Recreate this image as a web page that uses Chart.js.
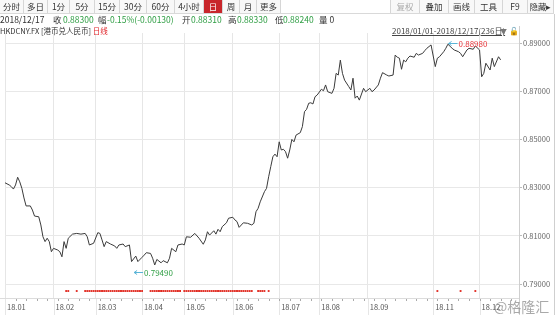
<!DOCTYPE html>
<html><head><meta charset="utf-8">
<script src="https://cdn.jsdelivr.net/npm/chart.js@4"></script>
<style>
html,body{margin:0;padding:0;background:#fff;width:556px;height:315px;overflow:hidden;font-family:"Noto Sans CJK SC","Noto Sans",sans-serif;}
#cv{position:absolute;left:0;top:0;}
.ov{position:absolute;white-space:nowrap;}
#row1{position:absolute;left:0;top:0;width:554px;height:13px;background:#f6f6f6;border-bottom:1px solid #d9d9d9;}
.btn{position:absolute;top:0;height:13px;line-height:13px;font-size:8.5px;text-align:center;color:#333;border-right:1px solid #d6d6d6;box-sizing:border-box;background:#f8f8f8;}
.sel{background:#c8262b;color:#fff;}
.r2{position:absolute;top:14px;height:11px;line-height:11px;font-size:8.5px;color:#333;white-space:nowrap;}
.g{color:#2f9e44;}
.r3{position:absolute;top:25px;height:12px;line-height:12px;font-size:7.5px;color:#333;white-space:nowrap;}
</style></head>
<body>
<canvas id="cv" width="556" height="315"></canvas>
<div id="row1">
<div class="btn" style="left:0;width:24px">分时</div>
<div class="btn" style="left:24px;width:24px">多日</div>
<div class="btn" style="left:48px;width:22px">1分</div>
<div class="btn" style="left:70px;width:25px">5分</div>
<div class="btn" style="left:95px;width:25px">15分</div>
<div class="btn" style="left:120px;width:27px">30分</div>
<div class="btn" style="left:147px;width:28px">60分</div>
<div class="btn" style="left:175px;width:29px">4小时</div>
<div class="btn sel" style="left:204px;width:19px">日</div>
<div class="btn" style="left:223px;width:17px">周</div>
<div class="btn" style="left:240px;width:17px">月</div>
<div class="btn" style="left:257px;width:24px">更多</div>
<div class="btn" style="left:281px;width:110px;background:#fff"></div>
<div class="btn" style="left:391px;width:29px;color:#aaa">复权</div>
<div class="btn" style="left:420px;width:29px">叠加</div>
<div class="btn" style="left:449px;width:26px">画线</div>
<div class="btn" style="left:475px;width:28px">工具</div>
<div class="btn" style="left:503px;width:25px">F9</div>
<div class="btn" style="left:528px;width:26px">隐藏▸</div>
</div>
<div class="r2" style="left:0">2018/12/17</div>
<div class="r2" style="left:53px">收</div>
<div class="r2 g" style="left:63px">0.88300</div>
<div class="r2" style="left:98px">幅</div>
<div class="r2 g" style="left:107px">-0.15%(-0.00130)</div>
<div class="r2" style="left:182px">开</div>
<div class="r2 g" style="left:191px">0.88310</div>
<div class="r2" style="left:228px">高</div>
<div class="r2 g" style="left:237px">0.88330</div>
<div class="r2" style="left:275px">低</div>
<div class="r2 g" style="left:283px">0.88240</div>
<div class="r2" style="left:319px">量 0</div>
<div class="r3" style="left:0">HKDCNY.FX [港币兑人民币] <span style="color:#e0262b">日线</span></div>
<div class="r3" style="left:392px;text-decoration:underline;color:#444;font-size:8px">2018/01/01-2018/12/17(236日)</div>
<div class="r3" style="left:500px;color:#777;font-size:7px">▼</div>
<div class="r3" style="left:509px;color:#f0a020;font-size:8px">🔓</div>
<div class="ov" style="left:494px;top:296px;font-size:14px;color:rgba(140,140,140,0.75)">@格隆汇</div>
<script>
// ---- data ----
const monthStartDays = [0, 23, 43, 65, 85, 108, 130, 149, 172, 203, 225];
const monthLabels = ['18.01','18.02','18.03','18.04','18.05','18.06','18.07','18.08','18.09','18.11','18.12'];
const yTicks = [0.79, 0.81, 0.83, 0.85, 0.87, 0.89];
const closeDays = [0,2,3,4,5,6,7,8,9,10,12,13,14,16,17,18,19,20,21,22,23,25,26,27,28,29,30,32,34,36,38,39,40,42,44,45,46,47,48,50,52,53,54,56,57,59,60,62,63,65,66,67,69,70,71,72,74,75,77,78,79,81,82,84,85,86,88,90,92,94,95,96,97,99,100,101,102,103,105,106,108,109,110,111,113,115,117,118,119,120,121,123,124,125,126,127,128,129,130,131,132,133,134,135,136,137,138,140,141,142,143,144,145,146,147,148,150,151,152,153,155,156,157,158,159,160,161,163,164,165,166,167,168,170,171,173,174,175,177,178,179,181,182,184,185,186,187,188,189,190,191,192,194,195,196,198,199,200,202,204,205,206,208,209,210,212,213,215,216,217,219,220,222,223,225,226,227,228,230,231,232,234,235];
const closeValues = [0.8320,0.8311,0.8304,0.8294,0.8311,0.8343,0.8324,0.8297,0.8257,0.8224,0.8224,0.8207,0.8182,0.8179,0.8145,0.8096,0.8076,0.8090,0.8076,0.8034,0.8048,0.8041,0.8034,0.8013,0.8076,0.8048,0.8090,0.8107,0.8110,0.8107,0.8110,0.8096,0.8062,0.8069,0.8113,0.8110,0.8083,0.8055,0.8076,0.8066,0.8058,0.8048,0.8062,0.8066,0.8055,0.8062,0.7993,0.8016,0.7993,0.8011,0.8020,0.8030,0.8027,0.8007,0.7979,0.8002,0.7988,0.7997,0.7988,0.8007,0.8048,0.8034,0.8062,0.8066,0.8062,0.8096,0.8094,0.8110,0.8090,0.8065,0.8083,0.8117,0.8103,0.8121,0.8107,0.8127,0.8117,0.8138,0.8154,0.8173,0.8177,0.8166,0.8159,0.8135,0.8154,0.8152,0.8145,0.8152,0.8200,0.8214,0.8241,0.8283,0.8297,0.8345,0.8387,0.8428,0.8439,0.8428,0.8490,0.8456,0.8459,0.8449,0.8422,0.8456,0.8500,0.8490,0.8518,0.8528,0.8553,0.8615,0.8625,0.8650,0.8652,0.8647,0.8677,0.8684,0.8708,0.8702,0.8726,0.8698,0.8691,0.8712,0.8774,0.8767,0.8829,0.8774,0.8746,0.8719,0.8705,0.8754,0.8671,0.8680,0.8663,0.8712,0.8698,0.8712,0.8698,0.8705,0.8726,0.8754,0.8777,0.8767,0.8763,0.8767,0.8850,0.8841,0.8837,0.8791,0.8829,0.8822,0.8837,0.8846,0.8841,0.8857,0.8850,0.8857,0.8868,0.8878,0.8892,0.8802,0.8837,0.8843,0.8864,0.8878,0.8895,0.8878,0.8871,0.8864,0.8857,0.8843,0.8871,0.8878,0.8874,0.8888,0.8871,0.8760,0.8774,0.8816,0.8788,0.8837,0.8802,0.8843,0.8830];
const signalDays = [29,30,34,38,39,40,41,42,43,44,45,46,47,48,49,50,51,52,53,54,55,56,57,58,59,60,61,62,63,64,65,69,70,71,72,73,74,75,76,77,78,79,80,81,82,83,85,86,87,88,89,90,91,92,93,94,95,96,97,98,99,100,101,102,103,104,105,106,107,108,109,110,111,112,113,114,115,116,117,120,121,122,123,125,205,216,223];
const signalLevel = 0.7871;
const periodHigh = 0.8898, periodHighDay = 210.3;
const periodLow = 0.7949, periodLowDay = 61.2;

const FONT = '"Noto Sans CJK SC","Noto Sans",sans-serif';

const extras = {
  id: 'extras',
  afterDraw(chart) {
    const c = chart.ctx, a = chart.chartArea, xs = chart.scales.x, ys = chart.scales.y;
    c.save();
    c.lineWidth = 1;
    c.strokeStyle = '#e6e6e6';
    monthStartDays.forEach(d => {
      const px = Math.round(xs.getPixelForValue(d)) + 0.5;
      c.beginPath(); c.moveTo(px, a.bottom); c.lineTo(px, 315); c.stroke();
    });
    c.strokeStyle = '#aaa';
    for (let d = 5; d < xs.max; d += 5) {
      const px = Math.round(xs.getPixelForValue(d)) + 0.5;
      c.beginPath(); c.moveTo(px, a.bottom); c.lineTo(px, a.bottom + 3); c.stroke();
    }
    c.strokeStyle = '#dcdcdc';
    c.beginPath(); c.moveTo(0, a.bottom + 0.5); c.lineTo(a.right, a.bottom + 0.5); c.stroke();
    c.strokeStyle = '#cfcfcf';
    c.beginPath(); c.moveTo(a.right + 0.5, 26); c.lineTo(a.right + 0.5, 315); c.stroke();
    c.beginPath(); c.moveTo(554.5, 14); c.lineTo(554.5, 315); c.stroke();
    const mark = (day, val, color) => {
      const px = xs.getPixelForValue(day), py = Math.round(ys.getPixelForValue(val)) + 0.5;
      c.strokeStyle = '#5ab4d6';
      c.beginPath(); c.moveTo(px, py); c.lineTo(px + 9, py);
      c.moveTo(px, py); c.lineTo(px + 3, py - 2);
      c.moveTo(px, py); c.lineTo(px + 3, py + 2); c.stroke();
      c.fillStyle = color; c.font = '8px ' + FONT; c.textBaseline = 'middle'; c.textAlign = 'left';
      c.fillText(val.toFixed(5), px + 10, py);
    };
    mark(periodHighDay, periodHigh, '#e8383d');
    mark(periodLowDay, periodLow, '#2f9e44');
    c.restore();
  }
};

new Chart(document.getElementById('cv'), {
  type: 'line',
  data: {
    datasets: [
      { data: closeDays.map((d, i) => ({x: d, y: closeValues[i]})), borderColor: '#3a3a3a', borderWidth: 1, pointRadius: 0, tension: 0, fill: false },
      { data: signalDays.map(d => ({x: d, y: signalLevel})), showLine: false, pointStyle: 'rect', pointRadius: 1.3, backgroundColor: '#e0251b', borderWidth: 0 }
    ]
  },
  options: {
    responsive: false, animation: false, devicePixelRatio: 1,
    layout: { padding: { top: 33, left: 0, right: 0, bottom: 0 } },
    plugins: { legend: { display: false }, tooltip: { enabled: false } },
    scales: {
      x: {
        type: 'linear', min: 0, max: 243.7,
        afterBuildTicks: s => { s.ticks = monthStartDays.map(v => ({value: v})); },
        afterFit: s => { s.height = 17; },
        grid: { color: '#e6e6e6', drawTicks: false },
        border: { display: false },
        ticks: { align: 'start', labelOffset: 2, padding: 5, autoSkip: false, maxRotation: 0, color: '#555',
                 font: { size: 7.5, family: FONT },
                 callback: v => monthLabels[monthStartDays.indexOf(v)] }
      },
      y: {
        position: 'right', min: 0.7842, max: 0.89415,
        afterBuildTicks: s => { s.ticks = yTicks.map(v => ({value: v})); },
        afterFit: s => { s.width = 37; },
        grid: { color: '#e8e8e8', tickLength: 3, tickColor: '#bbb' },
        border: { display: false },
        ticks: { padding: 1, color: '#666', font: { size: 7.5, family: FONT }, callback: v => v.toFixed(5) }
      }
    }
  },
  plugins: [extras]
});
</script>
</body></html>
